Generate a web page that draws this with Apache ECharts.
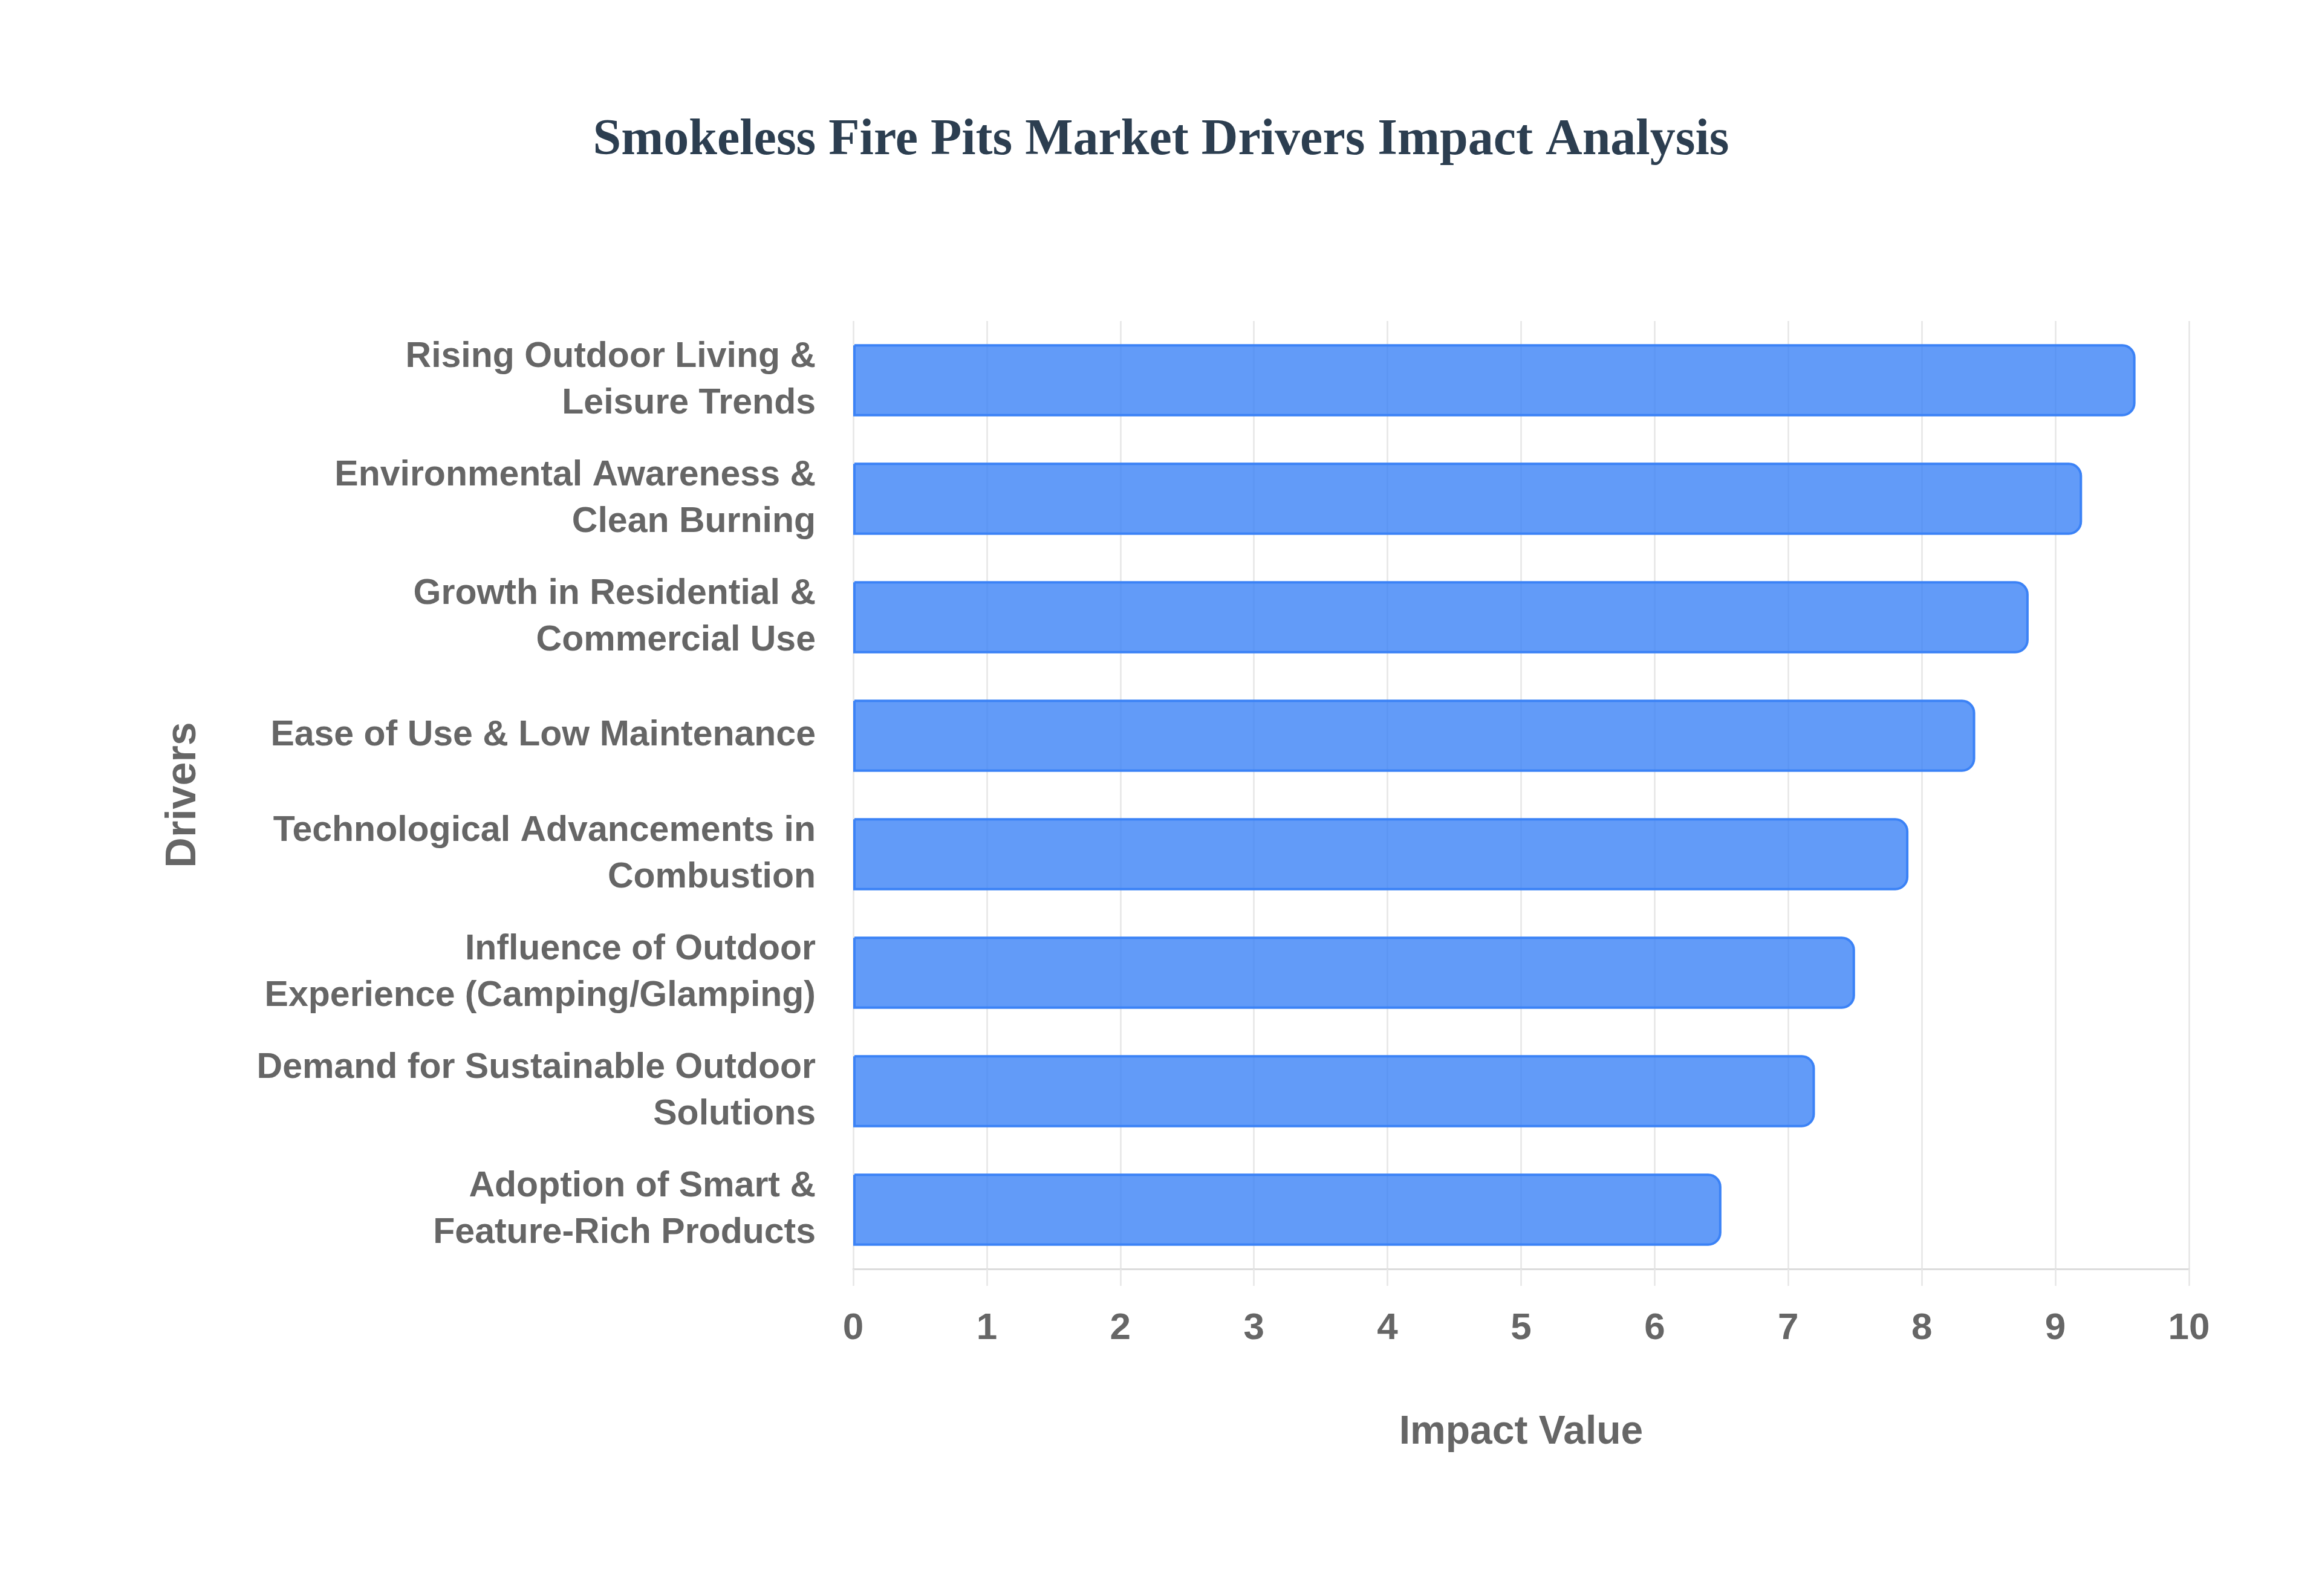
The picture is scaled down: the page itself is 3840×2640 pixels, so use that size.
<!DOCTYPE html>
<html>
<head>
<meta charset="utf-8">
<script src="https://cdn.jsdelivr.net/npm/echarts@6/dist/echarts.min.js"></script>
<style>
html,body{margin:0;padding:0;background:#fff;}
#chart{width:3840px;height:2640px;}
</style>
</head>
<body>
<div id="chart"></div>
<script>
const chartTitle = 'Smokeless Fire Pits Market Drivers Impact Analysis';
const categories = [
  'Rising Outdoor Living &\nLeisure Trends',
  'Environmental Awareness &\nClean Burning',
  'Growth in Residential &\nCommercial Use',
  'Ease of Use & Low Maintenance',
  'Technological Advancements in\nCombustion',
  'Influence of Outdoor\nExperience (Camping/Glamping)',
  'Demand for Sustainable Outdoor\nSolutions',
  'Adoption of Smart &\nFeature-Rich Products'
];
const impactValues = [9.6, 9.2, 8.8, 8.4, 7.9, 7.5, 7.2, 6.5];
const xAxisName = 'Impact Value';
const yAxisName = 'Drivers';

const chart = echarts.init(document.getElementById('chart'), null, {renderer: 'canvas'});
chart.setOption({
  backgroundColor: '#ffffff',
  animation: false,
  title: {
    text: chartTitle,
    left: 'center',
    top: 191,
    padding: 0,
    textStyle: {
      fontFamily: 'Liberation Serif',
      fontWeight: 'bold',
      fontSize: 84,
      color: '#2c3e50'
    }
  },
  grid: {
    left: 1411,
    right: 220,
    top: 531,
    bottom: 541,
    containLabel: false
  },
  xAxis: {
    type: 'value',
    min: 0,
    max: 10,
    interval: 1,
    name: xAxisName,
    nameLocation: 'middle',
    nameGap: 238,
    nameTextStyle: {
      fontFamily: 'Liberation Sans',
      fontWeight: 'bold',
      fontSize: 66,
      color: '#666666'
    },
    axisLine: {show: true, lineStyle: {color: '#dcdcdc', width: 3}},
    axisTick: {show: true, length: 28, lineStyle: {color: '#e6e6e6', width: 2.5}},
    splitLine: {show: true, lineStyle: {color: '#e6e6e6', width: 2.5}},
    axisLabel: {
      margin: 68,
      fontFamily: 'Liberation Sans',
      fontWeight: 'bold',
      fontSize: 62,
      color: '#666666'
    }
  },
  yAxis: {
    type: 'category',
    inverse: true,
    data: categories,
    name: yAxisName,
    nameLocation: 'middle',
    nameRotate: 90,
    nameGap: 1072,
    nameTextStyle: {
      fontFamily: 'Liberation Sans',
      fontWeight: 'bold',
      fontSize: 70,
      color: '#666666'
    },
    axisLine: {show: false},
    axisTick: {show: false},
    splitLine: {show: false},
    axisLabel: {
      margin: 62,
      fontFamily: 'Liberation Sans',
      fontWeight: 'bold',
      fontSize: 59,
      lineHeight: 77,
      color: '#666666',
      align: 'right'
    }
  },
  series: [{
    type: 'bar',
    data: impactValues,
    barWidth: '61%',
    itemStyle: {
      color: 'rgba(59,130,246,0.8)',
      borderColor: '#3b82f6',
      borderWidth: 4,
      borderRadius: [0, 20, 20, 0]
    }
  }]
});
</script>
</body>
</html>
